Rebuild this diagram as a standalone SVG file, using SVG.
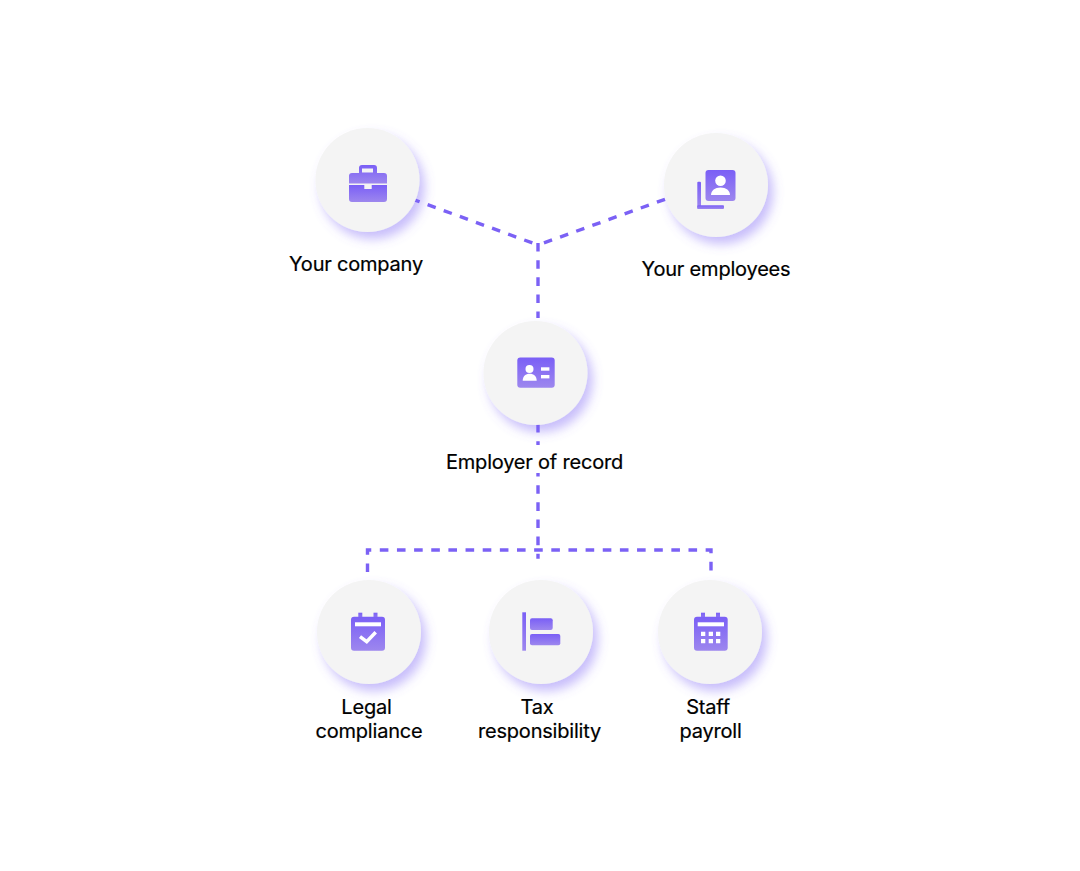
<svg xmlns="http://www.w3.org/2000/svg" width="1080" height="871" viewBox="0 0 1080 871">
<style>
.c{fill:#f4f4f4;filter:url(#sh)}
.i{fill:url(#g)}
.w{fill:#fff}
.t{font-family:Inter,"Liberation Sans",sans-serif;font-size:20px;letter-spacing:-0.2px;fill:#000;stroke:#000;stroke-width:0.2px;text-anchor:middle}
.l{fill:none;stroke:#7b61f5;stroke-width:3.4;stroke-dasharray:8.6 8.55}
</style>
<defs>
<linearGradient id="g" x1="0" y1="0" x2="0" y2="1"><stop offset="0" stop-color="#7a5ff6"/><stop offset="1" stop-color="#9d87ee"/></linearGradient>
<filter id="sh" x="-30%" y="-30%" width="170%" height="170%"><feDropShadow dx="5" dy="7" stdDeviation="5.500" flood-color="#7b61f5" flood-opacity="0.42"/></filter>
</defs>
<rect width="1080" height="871" fill="#fff"/>
<g id="connectors">
<path class="l" d="M411.5 198.8L538 245"/>
<path class="l" d="M665 199.3L538 245"/>
<path class="l" d="M538 243V318"/>
<path class="l" d="M538 424V445"/>
<path class="l" d="M538 473V558.7" stroke-dashoffset="5"/>
<path class="l" d="M367.5 572V550H711V572"/>
</g>
<g id="your-company">
<circle class="c" cx="367.5" cy="180" r="52"/>
<path class="i" fill-rule="evenodd" d="M361 165h13a3 3 0 0 1 3 3v5h7a3 3 0 0 1 3 3v7.500h-38V176a3 3 0 0 1 3-3h7v-5a3 3 0 0 1 3-3zM362 168.500v4h11v-4z"/>
<path class="i" d="M349 185h15.300v4h7.400v-4H387v14a3 3 0 0 1-3 3h-32a3 3 0 0 1-3-3z"/>
<text class="t" x="356" y="271">Your company</text>
</g>
<g id="your-employees">
<circle class="c" cx="716" cy="185" r="52"/>
<rect class="i" x="697.300" y="181.700" width="3.700" height="27.300" rx="1"/>
<rect class="i" x="697.300" y="205.300" width="26.700" height="3.700" rx="1"/>
<rect class="i" x="705.500" y="170" width="30" height="31" rx="3"/>
<circle class="w" cx="720.500" cy="180.700" r="5.300"/>
<path class="w" d="M711 195c0-4.500 4-7.500 9.500-7.500s9.500 3 9.500 7.500z"/>
<text class="t" x="716" y="276">Your employees</text>
</g>
<g id="employer-of-record">
<circle class="c" cx="535.500" cy="373" r="52"/>
<rect class="i" x="517.300" y="357.500" width="37.400" height="30.300" rx="3"/>
<circle class="w" cx="529.500" cy="369" r="4"/>
<path class="w" d="M522.700 380.700c0-4.500 3-7 7-7s7 2.500 7 7z"/>
<rect class="w" x="541" y="367.300" width="8.400" height="3.400"/>
<rect class="w" x="541" y="375" width="8.400" height="3.400"/>
<text class="t" x="534.500" y="469">Employer of record</text>
</g>
<g id="legal-compliance">
<circle class="c" cx="369" cy="632" r="52"/>
<rect class="i" x="358.300" y="612.700" width="4" height="8"/>
<rect class="i" x="373.500" y="612.700" width="4" height="8"/>
<rect class="i" x="351" y="616.700" width="34" height="34" rx="3"/>
<rect class="w" x="355" y="622.300" width="26" height="4"/>
<path d="M360 636.700l6.700 5 9-9.400" fill="none" stroke="#fff" stroke-width="3.500"/>
<text class="t" x="366.500" y="714">Legal</text>
<text class="t" x="369" y="738">compliance</text>
</g>
<g id="tax-responsibility">
<circle class="c" cx="541" cy="632" r="52"/>
<rect class="i" x="522.300" y="612.300" width="3.700" height="38.400"/>
<rect class="i" x="530" y="618.300" width="22.700" height="11.700" rx="2"/>
<rect class="i" x="530" y="634" width="30.300" height="11.300" rx="2"/>
<text class="t" x="537" y="714">Tax</text>
<text class="t" x="539.500" y="738">responsibility</text>
</g>
<g id="staff-payroll">
<circle class="c" cx="710" cy="632" r="52"/>
<rect class="i" x="701" y="612.700" width="4" height="8"/>
<rect class="i" x="716" y="612.700" width="4" height="8"/>
<rect class="i" x="694" y="616.700" width="33.700" height="34" rx="3"/>
<rect class="w" x="697.700" y="622.300" width="26.300" height="4"/>
<path class="w" d="M701 631.700h4.300V636H701zM708.700 631.700H713V636h-4.300zM716 631.700h4.300V636H716zM701 639h4.300v4.300H701zM708.700 639H713v4.300h-4.300zM716 639h4.300v4.300H716z"/>
<text class="t" x="708" y="714">Staff</text>
<text class="t" x="710.500" y="738">payroll</text>
</g>
</svg>
